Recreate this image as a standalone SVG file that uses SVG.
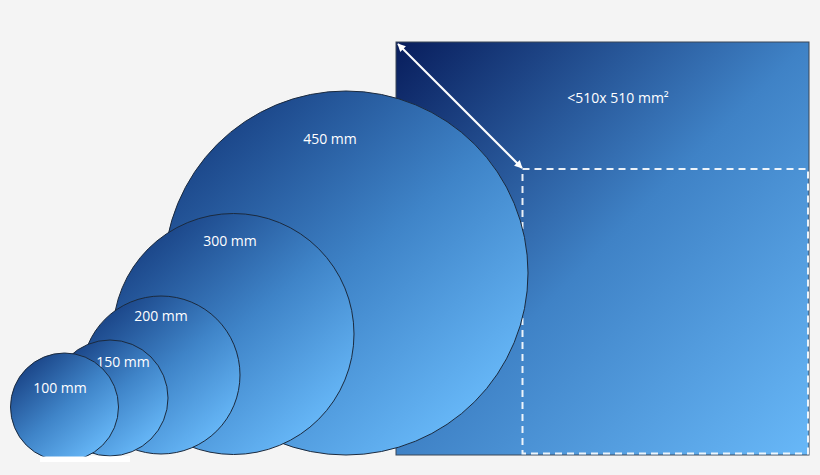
<svg xmlns="http://www.w3.org/2000/svg" width="820" height="475" viewBox="0 0 820 475">
<defs>
<linearGradient id="gSq" x1="0" y1="0" x2="1" y2="1">
<stop offset="0" stop-color="#081d5c"/>
<stop offset="0.5" stop-color="#3f82c6"/>
<stop offset="1" stop-color="#68b8f8"/>
</linearGradient>
<linearGradient id="gC" x1="0.15" y1="0.1" x2="0.85" y2="0.9">
<stop offset="0" stop-color="#1a4487"/>
<stop offset="0.5" stop-color="#3f84c8"/>
<stop offset="1" stop-color="#68b9f9"/>
</linearGradient>
<clipPath id="clipB"><rect x="0" y="0" width="820" height="456.5"/></clipPath>
<marker id="ah" viewBox="0 0 10 10" refX="9" refY="5" markerWidth="4" markerHeight="4" orient="auto-start-reverse">
<path d="M0,0 L10,5 L0,10 z" fill="#ffffff"/>
</marker>
<style>
.c{fill:url(#gC);stroke:#1b2a3e;stroke-width:1}
.t{font-family:"Open Sans","Liberation Sans",sans-serif;font-size:14px;fill:#ffffff;text-anchor:middle}
</style>
</defs>
<rect x="0" y="0" width="820" height="475" fill="#f4f4f4"/>
<rect x="40" y="456" width="90" height="6" fill="#ffffff"/>
<g id="square">
<rect x="396" y="42" width="413" height="413" fill="url(#gSq)" stroke="#3a4656" stroke-width="1"/>
<rect x="522.5" y="169" width="285.5" height="284.5" fill="none" stroke="#ffffff" stroke-width="2" stroke-dasharray="7,5" opacity="0.9"/>
<text class="t" x="618" y="103">&lt;510x 510 mm²</text>
</g>
<g id="connectors">
<line x1="398" y1="44" x2="522" y2="168" stroke="#ffffff" stroke-width="2" marker-start="url(#ah)" marker-end="url(#ah)"/>
</g>
<g clip-path="url(#clipB)">
<g id="c450"><circle class="c" cx="346" cy="273" r="182"/><text class="t" x="330" y="144">450 mm</text></g>
<g id="c300"><circle class="c" cx="233.5" cy="334" r="120.5"/><text class="t" x="230" y="246">300 mm</text></g>
<g id="c200"><circle class="c" cx="161" cy="375" r="79"/><text class="t" x="161" y="321">200 mm</text></g>
<g id="c150"><circle class="c" cx="110" cy="398" r="58"/><text class="t" x="123" y="367">150 mm</text></g>
<g id="c100"><circle class="c" cx="64.5" cy="407" r="54"/><text class="t" x="60" y="393">100 mm</text></g>
</g>
</svg>
